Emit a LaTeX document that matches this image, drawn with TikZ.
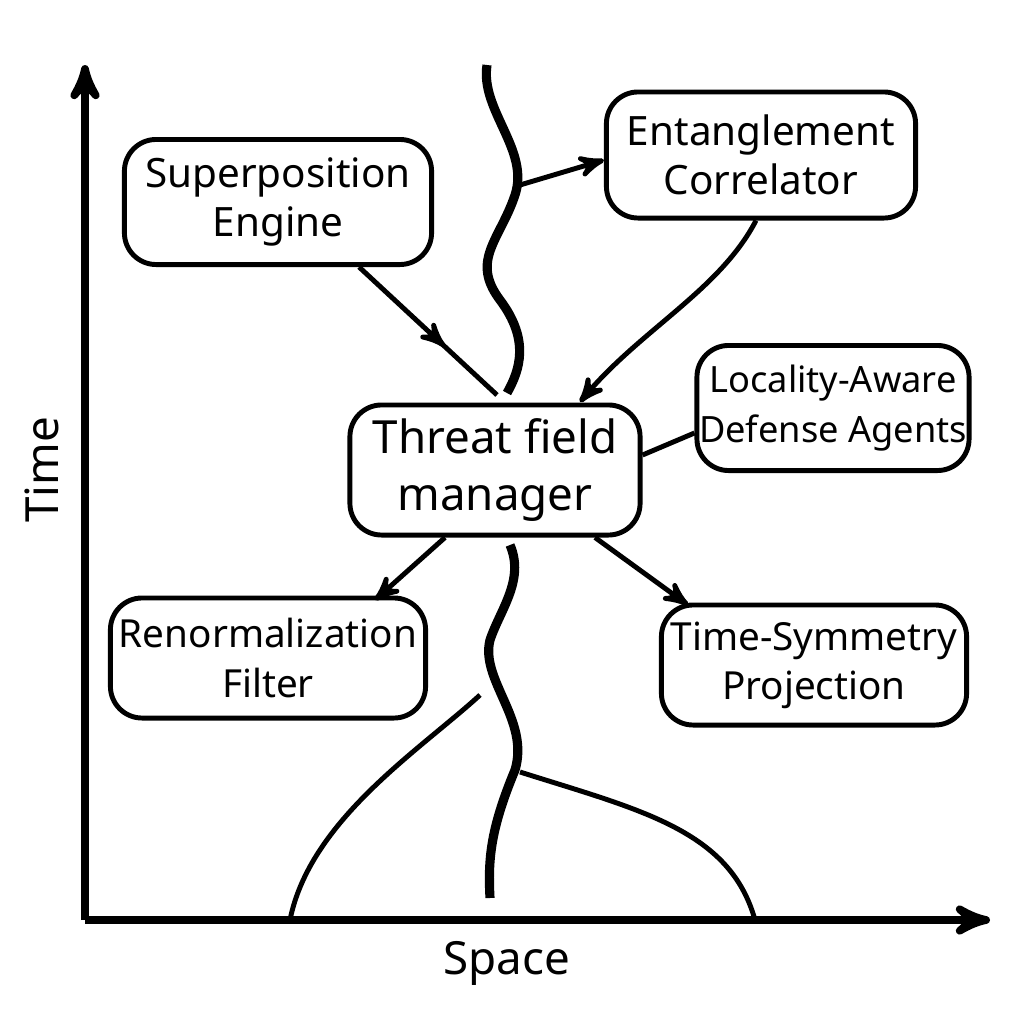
\documentclass[tikz,border=0pt]{standalone}
\usepackage{fontspec}
\setmainfont{Noto Sans}
\usetikzlibrary{arrows,decorations.markings}
\begin{document}
\begin{tikzpicture}[x=0.01cm,y=-0.01cm,>=stealth',semithick,
  box/.style={draw,line width=1.4pt,rounded corners=9pt,align=center,
    font=\fontsize{11.5}{14}\selectfont,inner sep=0pt},
  midarrow/.style={decoration={markings,mark=at position #1 with {\arrow{>}}},postaction=decorate}]
\useasboundingbox (0,0) rectangle (1024,1024);

\node[box,minimum width=3.07cm,minimum height=1.25cm] (S) at (278,202) {Superposition\\Engine};
\node[box,minimum width=3.09cm,minimum height=1.26cm] (E) at (761,155) {Entanglement\\Correlator};
\node[box,minimum width=2.72cm,minimum height=1.25cm,font=\fontsize{10.3}{14}\selectfont] (L) at (833,408) {Locality-Aware\\Defense Agents};
\node[box,minimum width=2.9cm,minimum height=1.3cm,font=\fontsize{13}{16}\selectfont] (T) at (495,470) {Threat field\\manager};
\node[box,minimum width=3.15cm,minimum height=1.2cm,font=\fontsize{11}{14}\selectfont] (R) at (268,658) {Renormalization\\Filter};
\node[box,minimum width=3.05cm,minimum height=1.2cm,font=\fontsize{11}{14}\selectfont] (P) at (814,665) {Time-Symmetry\\Projection};

\coordinate (O) at (85,920);
\coordinate (Ytop) at (85,65);
\coordinate (Xend) at (990,920);
\draw[line width=2.2pt,->] (O) -- (Ytop);
\draw[line width=2.2pt,->] (O) -- (Xend);
\node[rotate=90,font=\fontsize{13}{15}\selectfont] (time) at (42,470) {Time};
\node[font=\fontsize{13}{15}\selectfont] (space) at (507,963) {Space};

% world line
\coordinate (W0) at (487,65);
\coordinate (W1) at (507,393);
\coordinate (W2) at (510,545);
\coordinate (W3) at (490,898);
\draw[line width=2.6pt] (W0) .. controls (480,110) and (530,150) .. (515,195)
  .. controls (500,240) and (470,260) .. (500,300)
  .. controls (530,340) and (520,370) .. (W1);
\draw[line width=2.6pt] (W2) .. controls (525,580) and (500,610) .. (490,640)
  .. controls (480,680) and (530,720) .. (515,770)
  .. controls (490,830) and (488,860) .. (W3);

% light cone
\coordinate (C1) at (290,920);
\coordinate (C2) at (480,695);
\coordinate (C3) at (520,772);
\coordinate (C4) at (755,920);
\draw[line width=1.4pt] (C1) .. controls (310,820) and (420,750) .. (C2);
\draw[line width=1.4pt] (C3) .. controls (640,810) and (730,830) .. (C4);

% connectors
\coordinate (Sw) at (497,395);
\coordinate (Ew) at (520,185);
\draw[line width=1.4pt,midarrow=0.62] (S.south east) ++(-75,0) -- (Sw);
\draw[line width=1.4pt,->] (Ew) -- (E.west |- 0,160);
\draw[line width=1.4pt,->] (E.south) ++(-5,0) .. controls (720,290) and (640,330) .. (580,402);
\draw[line width=1.4pt] (L.west) ++(0,25) -- (T.east |- 0,455);
\draw[line width=1.4pt,->] (T.south) ++(-50,0) -- (375,600);
\draw[line width=1.4pt,->] (T.south) ++(100,0) -- (688,605);
\end{tikzpicture}
\end{document}
